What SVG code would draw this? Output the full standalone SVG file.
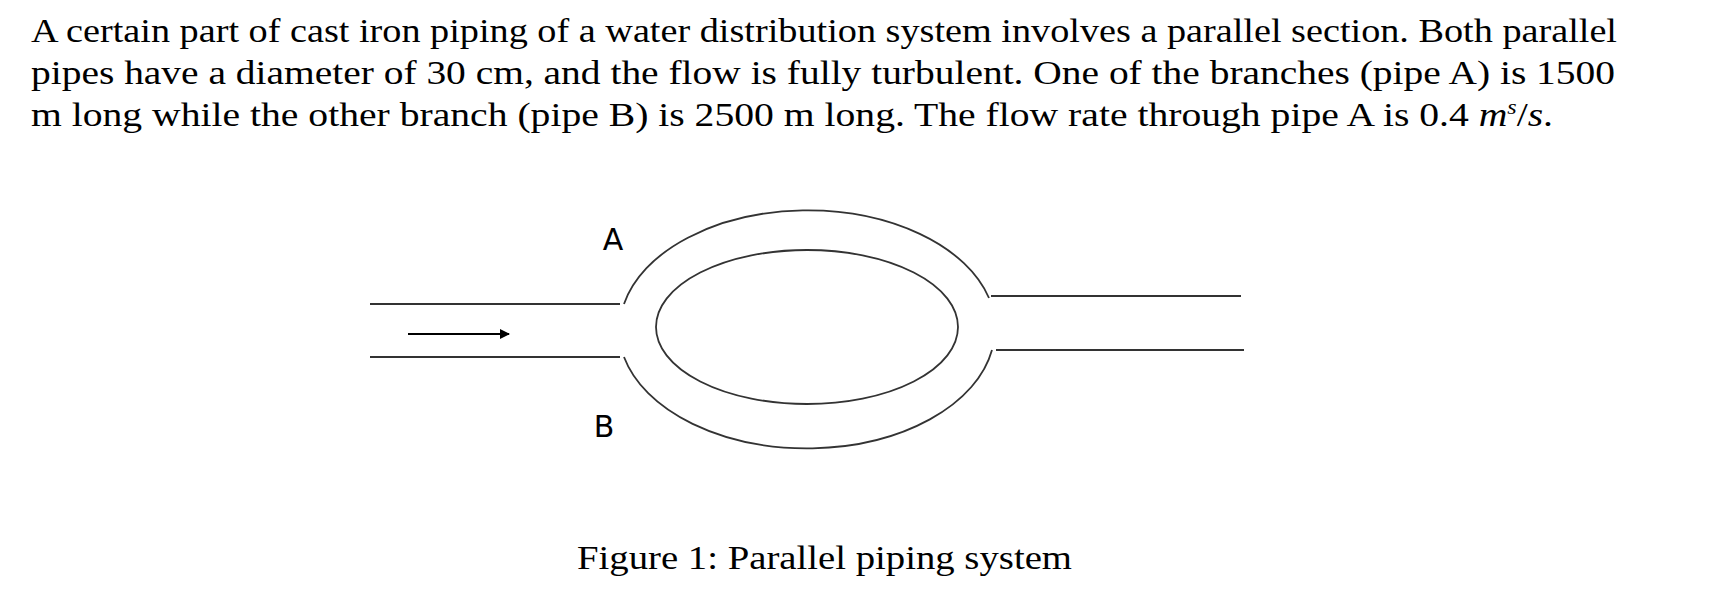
<svg xmlns="http://www.w3.org/2000/svg" width="1716" height="596" viewBox="0 0 1716 596">
<style>
.t{font-family:"Liberation Serif","DejaVu Serif",serif;font-size:33px;fill:#000}
.l{font-family:"DejaVu Sans","Liberation Sans",sans-serif;font-size:30px;fill:#000}
.p{fill:none;stroke:#333;stroke-width:1.8}
</style>
<defs><marker id="ah" markerWidth="10" markerHeight="10" refX="9" refY="5" orient="auto" markerUnits="userSpaceOnUse"><path d="M0,0 L10,5 L0,10 z" fill="#000"/></marker></defs>
<rect width="1716" height="596" fill="#fff"/>
<g id="problem-text">
<text class="t" x="31" y="42" textLength="1586" lengthAdjust="spacingAndGlyphs">A certain part of cast iron piping of a water distribution system involves a parallel section. Both parallel</text>
<text class="t" x="31" y="84" textLength="1584" lengthAdjust="spacingAndGlyphs">pipes have a diameter of 30 cm, and the flow is fully turbulent. One of the branches (pipe A) is 1500</text>
<text class="t" x="31" y="126" textLength="1522" lengthAdjust="spacingAndGlyphs">m long while the other branch (pipe B) is 2500 m long. The flow rate through pipe A is 0.4 <tspan font-style="italic">m</tspan><tspan font-style="italic" font-size="20" dy="-12">s</tspan><tspan dy="12">/</tspan><tspan font-style="italic">s</tspan>.</text>
</g>
<g id="inlet-pipe">
<line class="p" x1="370" y1="304" x2="620" y2="304"/>
<line class="p" x1="370" y1="357" x2="620" y2="357"/>
</g>
<g id="pipe-A"><path class="p" d="M624,304 A188,119 0 0 1 989,298"/></g>
<g id="pipe-B"><path class="p" d="M624,357 A188,119 0 0 0 992,350"/></g>
<g id="inner-loop"><ellipse class="p" cx="807" cy="327" rx="151" ry="77"/></g>
<g id="outlet-pipe">
<line class="p" x1="991" y1="296" x2="1241" y2="296"/>
<line class="p" x1="996" y1="350" x2="1244" y2="350"/>
</g>
<g id="connectors"><line x1="408" y1="334" x2="509" y2="334" stroke="#000" stroke-width="1.8" marker-end="url(#ah)"/></g>
<g id="label-A"><text class="l" x="613" y="250" text-anchor="middle">A</text></g>
<g id="label-B"><text class="l" x="604" y="437" text-anchor="middle">B</text></g>
<g id="caption"><text class="t" x="577" y="569" textLength="495" lengthAdjust="spacingAndGlyphs">Figure 1: Parallel piping system</text></g>
</svg>
